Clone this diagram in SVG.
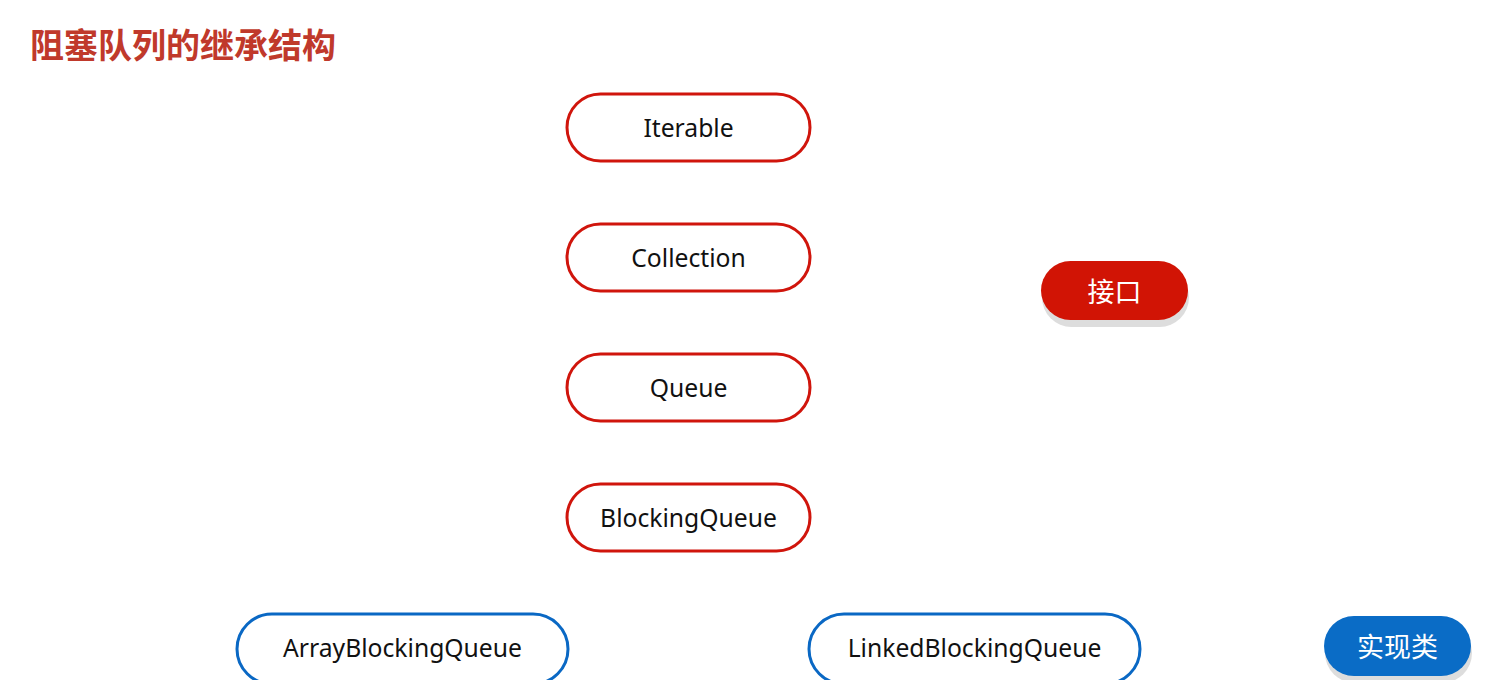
<svg xmlns="http://www.w3.org/2000/svg" width="1502" height="680" viewBox="0 0 1502 680">
<style>
.iface{fill:#fff;stroke:#d0150c;stroke-width:3}
.impl{fill:#fff;stroke:#0a68c4;stroke-width:3}
.lbl{font-family:"Noto Sans","Open Sans",sans-serif;font-size:24.7px;fill:#111;text-anchor:middle;dominant-baseline:central}
.btn{font-family:"Noto Sans CJK SC",sans-serif;font-size:27px;fill:#fff;text-anchor:middle;dominant-baseline:central}
</style>
<rect width="1502" height="680" fill="#fff"/>
<text x="30" y="43" font-family="Noto Sans CJK SC, sans-serif" font-size="34" font-weight="bold" fill="#c0392b" dominant-baseline="central">阻塞队列的继承结构</text>
<g id="connectors"></g>
<g id="iterable"><rect class="iface" x="567" y="94" width="243" height="67" rx="33.5"/><text class="lbl" x="688.5" y="127">Iterable</text></g>
<g id="collection"><rect class="iface" x="567" y="224" width="243" height="67" rx="33.5"/><text class="lbl" x="688.5" y="257">Collection</text></g>
<g id="queue"><rect class="iface" x="567" y="354" width="243" height="67" rx="33.5"/><text class="lbl" x="688.5" y="387">Queue</text></g>
<g id="blockingqueue"><rect class="iface" x="567" y="484" width="243" height="67" rx="33.5"/><text class="lbl" x="688.5" y="517">BlockingQueue</text></g>
<g id="arrayblockingqueue"><rect class="impl" x="237" y="614" width="331" height="70" rx="35"/><text class="lbl" x="402.5" y="647">ArrayBlockingQueue</text></g>
<g id="linkedblockingqueue"><rect class="impl" x="809" y="614" width="331" height="70" rx="35"/><text class="lbl" x="974.5" y="647">LinkedBlockingQueue</text></g>
<g id="legend-interface"><rect x="1042" y="268" width="147" height="59" rx="29.5" fill="#ddd"/><rect x="1041" y="261" width="147" height="59" rx="29.5" fill="#d11405"/><text class="btn" x="1114.5" y="290">接口</text></g>
<g id="legend-impl"><rect x="1325" y="623" width="147" height="60" rx="30" fill="#ddd"/><rect x="1324" y="616" width="147" height="60" rx="30" fill="#0a6cc6"/><text class="btn" x="1397.5" y="645">实现类</text></g>
</svg>
